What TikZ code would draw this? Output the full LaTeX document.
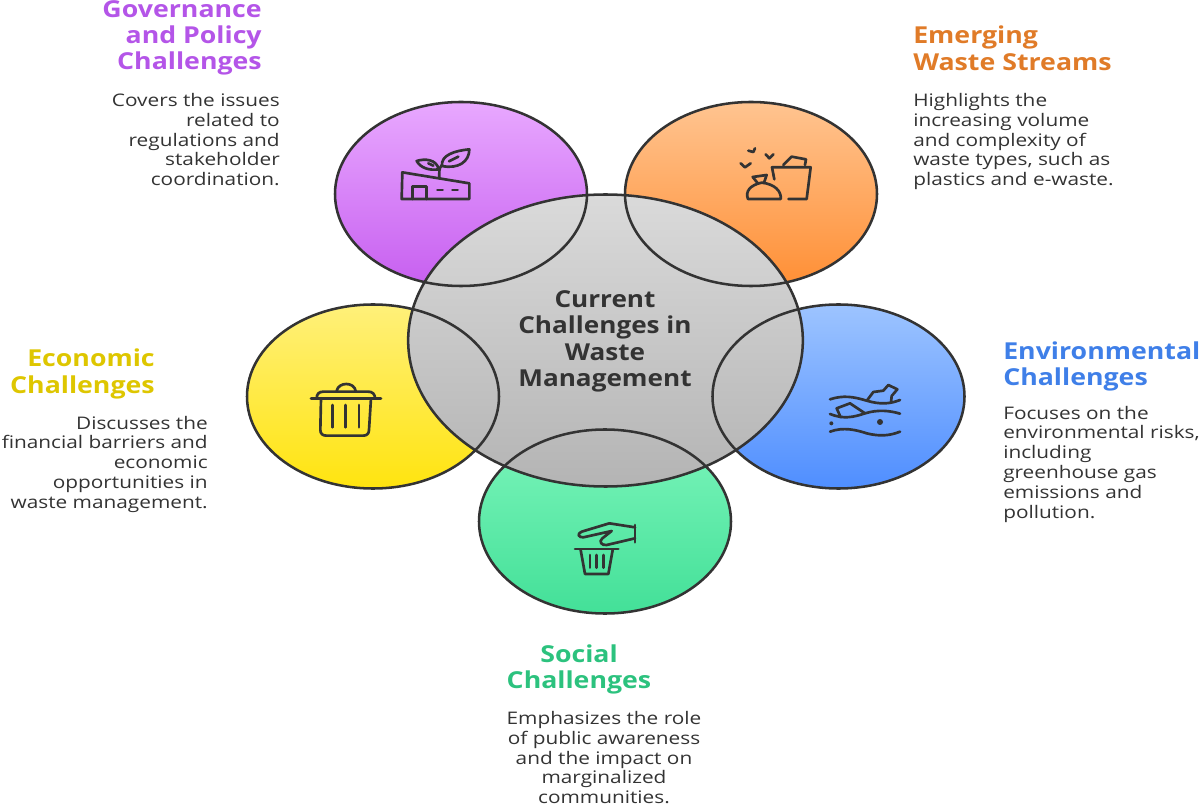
\documentclass[tikz,border=0pt]{standalone}
\usepackage{fontspec}
\setmainfont[FakeStretch=1.2]{Open Sans}
\newfontfamily\titlefont[FakeStretch=1.145]{Open Sans}
\newfontfamily\corefont[FakeStretch=1.12]{Open Sans}
\usetikzlibrary{shapes.geometric}
\definecolor{ink}{HTML}{333333}
\definecolor{tpurple}{HTML}{B455E8}
\definecolor{torange}{HTML}{E07B28}
\definecolor{tblue}{HTML}{3F7FE8}
\definecolor{tyellow}{HTML}{DEC600}
\definecolor{tgreen}{HTML}{2CC27E}
\definecolor{ptop}{HTML}{E8A8FF}\definecolor{pbot}{HTML}{C75FF0}
\definecolor{otop}{HTML}{FFC490}\definecolor{obot}{HTML}{FF8F35}
\definecolor{btop}{HTML}{9DC4FF}\definecolor{bbot}{HTML}{4F8EFF}
\definecolor{ytop}{HTML}{FFF07A}\definecolor{ybot}{HTML}{FFE40F}
\definecolor{gtop}{HTML}{7CF5BB}\definecolor{gbot}{HTML}{43E098}
\definecolor{ctop}{HTML}{DADADA}\definecolor{cbot}{HTML}{B4B4B4}
\tikzset{
 bubble/.style={ellipse,inner sep=0pt,minimum width=189pt,minimum height=138pt},
 core/.style={ellipse,inner sep=0pt,minimum width=296pt,minimum height=219pt},
 outline/.style={draw=ink,line width=1.9pt},
 ttl/.style={font=\fontsize{17.5}{19.6}\selectfont\titlefont\bfseries,inner sep=0pt,execute at begin node=\strut,execute at end node=\strut},
 coretxt/.style={font=\fontsize{17.5}{19.6}\selectfont\corefont\bfseries,text=ink,inner sep=0pt,execute at begin node=\strut,execute at end node=\strut},
 bodytxt/.style={font=\fontsize{13}{14.85}\selectfont,text=ink,inner sep=0pt,execute at begin node=\strut,execute at end node=\strut},
 icon/.style={draw=ink,line width=2pt,line cap=round,line join=round},
}
\begin{document}
\begin{tikzpicture}[x=0.75pt,y=-0.75pt]
\useasboundingbox (0,0) rectangle (1200,805);
% filled bubbles
\node[bubble,top color=ptop,bottom color=pbot] (purple) at (461,194) {};
\node[bubble,top color=otop,bottom color=obot] (orange) at (751,194) {};
\node[bubble,top color=btop,bottom color=bbot] (blue) at (838.5,396.5) {};
\node[bubble,top color=ytop,bottom color=ybot] (yellow) at (373,396.5) {};
\node[bubble,top color=gtop,bottom color=gbot] (green) at (605,521.5) {};
\node[core,top color=ctop,bottom color=cbot] (center) at (605.5,340.5) {};
% outlines
\node[bubble,outline] (purpleline) at (purple.center) {};
\node[bubble,outline] (orangeline) at (orange.center) {};
\node[bubble,outline] (blueline) at (blue.center) {};
\node[bubble,outline] (yellowline) at (yellow.center) {};
\node[bubble,outline] (greenline) at (green.center) {};
\node[core,outline] (centerline) at (center.center) {};
% centre text
\node[coretxt,align=center] (centertext) at (605,342.5)
 {Current\\Challenges in\\Waste\\Management};
% titles
\node[ttl,text=tpurple,align=right,anchor=east] (t1) at (262,39) {Governance\\and Policy\\Challenges};
\node[ttl,text=torange,align=left,anchor=west] (t2) at (913,52) {Emerging\\Waste Streams};
\node[ttl,text=tblue,align=left,anchor=west] (t3) at (1003,367.5) {Environmental\\Challenges};
\node[ttl,text=tyellow,align=right,anchor=east] (t4) at (155,375) {Economic\\Challenges};
\node[ttl,text=tgreen,align=center] (t5) at (579,670.5) {Social\\Challenges};
% bodies
\node[bodytxt,align=right,anchor=east] (b1) at (280,142.5) {Covers the issues\\related to\\regulations and\\stakeholder\\coordination.};
\node[bodytxt,align=left,anchor=west] (b2) at (913,142.5) {Highlights the\\increasing volume\\and complexity of\\waste types, such as\\plastics and e-waste.};
\node[bodytxt,align=left,anchor=west] (b3) at (1003,465) {Focuses on the\\environmental risks,\\including\\greenhouse gas\\emissions and\\pollution.};
\node[bodytxt,align=right,anchor=east] (b4) at (208,465) {Discusses the\\financial barriers and\\economic\\opportunities in\\waste management.};
\node[bodytxt,align=center] (b5) at (604,760.5) {Emphasizes the role\\of public awareness\\and the impact on\\marginalized\\communities.};
% factory icon
\begin{scope}[shift={(380,130)},x=0.25pt,y=-0.25pt]
\draw[icon] (67,127) -- (268,160) -- (268,207) -- (65,207) -- cycle;
\draw[icon] (97,207) -- (97,170) -- (140,170) -- (140,207);
\draw[icon] (172,180) -- (188,180) (217,180) -- (233,180);
\draw[icon] (178,145) .. controls (178,125) and (176,115) .. (186,105);
\draw[icon] (186,108) .. controls (182,75) and (225,62) .. (268,58) .. controls (268,95) and (235,118) .. (186,108);
\draw[icon] (207,94) -- (235,80);
\draw[icon] (176,118) .. controls (170,88) and (135,85) .. (110,93) .. controls (122,115) and (150,122) .. (176,118);
\draw[icon] (145,100) -- (160,107);
\end{scope}
% waste icon
\begin{scope}[shift={(720,130)},x=0.25pt,y=-0.25pt]
\draw[icon] (163,148) -- (156,112) -- (272,112) -- (260,207) -- (205,207);
\draw[icon] (190,105) -- (215,80) -- (258,88) -- (255,105);
\draw[icon] (125,158) .. controls (165,162) and (185,185) .. (182,207) -- (84,207) .. controls (75,185) and (90,165) .. (125,158);
\draw[icon] (112,158) -- (98,141) -- (140,135) -- (132,158);
\draw[icon] (62,100) -- (75,112) -- (92,100);
\draw[icon] (85,62) -- (100,66) -- (105,55);
\draw[icon] (137,73) -- (148,85) -- (160,73);
\end{scope}
% ocean icon
\begin{scope}[shift={(810,370)},x=0.25pt,y=-0.25pt]
\draw[icon] (60,88) .. controls (100,75) and (130,80) .. (170,92) .. controls (210,104) and (240,102) .. (270,90);
\draw[icon] (172,90) -- (190,66) -- (220,62) -- (235,45) -- (262,58) -- (245,78) -- (243,98);
\draw[icon] (60,132) .. controls (100,148) and (130,142) .. (165,130) .. controls (205,118) and (240,122) .. (270,131);
\draw[icon] (92,142) -- (80,115) -- (120,100) -- (165,130);
\fill[ink] (64,160) circle[radius=6];
\fill[ink] (210,156) circle[radius=9];
\draw[icon] (60,185) .. controls (100,170) and (140,180) .. (170,190) .. controls (210,200) and (240,197) .. (270,185);
\end{scope}
% hand and bin icon
\begin{scope}[shift={(550,505)},x=0.25pt,y=-0.25pt]
\draw[icon] (255,60) -- (255,112);
\draw[icon] (255,67) -- (178,55) -- (95,80) .. controls (80,86) and (85,98) .. (100,97) -- (185,78) -- (157,100) .. controls (145,110) and (155,122) .. (170,120) -- (255,100);
\draw[icon] (75,132) -- (205,132);
\draw[icon] (92,135) -- (105,207) -- (175,207) -- (188,135);
\draw[icon] (120,150) -- (120,188) (140,150) -- (140,188) (160,150) -- (160,188);
\end{scope}
% trash can icon
\begin{scope}[shift={(295,370)},x=0.25pt,y=-0.25pt]
\draw[icon] (48,85) -- (258,85);
\draw[icon] (65,85) .. controls (65,72) and (72,65) .. (85,65) -- (220,65) .. controls (232,65) and (240,72) .. (240,85);
\draw[icon] (125,63) .. controls (130,35) and (178,35) .. (182,63);
\draw[icon] (78,85) -- (76,180) .. controls (76,192) and (84,197) .. (95,197) -- (205,197) .. controls (216,197) and (222,190) .. (222,180) -- (228,85);
\draw[icon] (112,105) -- (112,172) (152,105) -- (152,172) (192,105) -- (192,172);
\end{scope}
\end{tikzpicture}
\end{document}
